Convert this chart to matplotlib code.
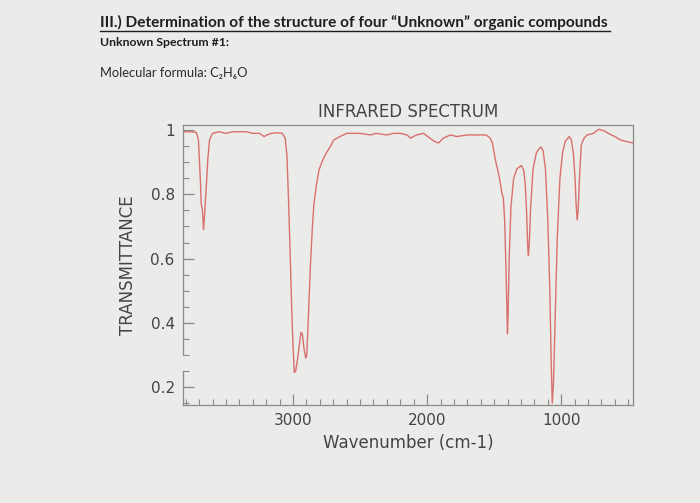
import matplotlib
matplotlib.use("Agg")
import matplotlib.pyplot as plt
from matplotlib.ticker import MultipleLocator, FixedLocator
from matplotlib.lines import Line2D

# ---- data ----
wavenumber = [3820, 3760, 3721, 3705, 3690, 3684, 3675, 3667, 3660, 3647, 3635, 3622, 3600,
              3550, 3500, 3450, 3400, 3350, 3300, 3250, 3215, 3195, 3160, 3120, 3080, 3058,
              3045, 3033, 3020, 3010, 3000, 2990, 2980, 2965, 2950, 2940, 2930, 2918, 2905,
              2897, 2885, 2870, 2855, 2844, 2825, 2807, 2780, 2750, 2720, 2695, 2650, 2600,
              2569, 2500, 2420, 2380, 2300, 2250, 2197, 2150, 2123, 2080, 2026, 1980, 1945,
              1914, 1880, 1825, 1780, 1700, 1620, 1560, 1530, 1513, 1490, 1468, 1452, 1441,
              1432, 1422, 1412, 1405, 1401, 1396, 1388, 1375, 1355, 1330, 1297, 1280, 1268,
              1258, 1250, 1245, 1238, 1228, 1210, 1185, 1160, 1149, 1135, 1118, 1100, 1085,
              1075, 1067, 1058, 1045, 1030, 1010, 990, 970, 941, 925, 910, 897, 888, 881,
              874, 862, 850, 830, 807, 760, 720, 700, 680, 650, 600, 561, 520, 465]
transmittance = [0.995, 0.995, 0.993, 0.97, 0.84, 0.77, 0.75, 0.69, 0.73, 0.82, 0.91, 0.97, 0.99,
                 0.995, 0.99, 0.995, 0.995, 0.995, 0.99, 0.99, 0.98, 0.985, 0.99, 0.992, 0.99, 0.975,
                 0.92, 0.78, 0.60, 0.45, 0.33, 0.245, 0.25, 0.29, 0.34, 0.37, 0.365, 0.32, 0.29,
                 0.30, 0.42, 0.58, 0.70, 0.77, 0.83, 0.875, 0.905, 0.93, 0.95, 0.97, 0.98, 0.99,
                 0.99, 0.99, 0.985, 0.99, 0.985, 0.99, 0.99, 0.985, 0.975, 0.985, 0.99, 0.975, 0.965,
                 0.96, 0.975, 0.985, 0.98, 0.985, 0.985, 0.985, 0.975, 0.96, 0.905, 0.866, 0.83, 0.80,
                 0.79, 0.72, 0.57, 0.44, 0.366, 0.43, 0.60, 0.76, 0.85, 0.88, 0.89, 0.875, 0.83,
                 0.74, 0.64, 0.61, 0.65, 0.76, 0.88, 0.93, 0.945, 0.947, 0.935, 0.88, 0.72, 0.50,
                 0.28, 0.15, 0.21, 0.42, 0.66, 0.85, 0.93, 0.965, 0.98, 0.97, 0.93, 0.85, 0.76, 0.72,
                 0.75, 0.87, 0.955, 0.975, 0.985, 0.99, 1.003, 1.0, 0.998, 0.99, 0.98, 0.97, 0.965, 0.96]
ytick_vals = [0.2, 0.4, 0.6, 0.8, 1.0]
ytick_labels = ["0.2", "0.4", "0.6", "0.8", "1"]
xtick_vals = [3000, 2000, 1000]
xtick_labels = ["3000", "2000", "1000"]

bg = "#ebebe9"
fig = plt.figure(figsize=(7.0, 5.03), dpi=100, facecolor=bg)

# ---- page text ----
page_font = ["Lato", "DejaVu Sans"]
fig.text(100/700, 1-22/503, "III.) Determination of the structure of four \u201cUnknown\u201d organic compounds",
         family=page_font, fontweight="bold", fontsize=11.1, color="#1e1e1e", va="center", ha="left")
fig.add_artist(Line2D([100/700, 610/700], [1-31/503, 1-31/503], color="#1e1e1e", lw=1.0))
fig.text(100/700, 1-43/503, "Unknown Spectrum #1:", family=page_font, fontweight="bold",
         fontsize=8.8, color="#1e1e1e", va="center", ha="left")
fig.text(100/700, 1-73/503, "Molecular formula: C\u2082H\u2086O", family=page_font,
         fontsize=9.3, color="#2a2a2a", va="center", ha="left")

# ---- axes ----
ax = fig.add_axes([183/700, 1-405/503, 450/700, 280/503])
ax.set_facecolor(bg)
ax.plot(wavenumber, transmittance, color="#d8706e", lw=1.0)
ax.set_xlim(3820, 465)
ax.set_ylim(0.144, 1.016)

ax.xaxis.set_major_locator(FixedLocator(xtick_vals))
ax.set_xticklabels(xtick_labels)
ax.xaxis.set_minor_locator(MultipleLocator(100))
ax.yaxis.set_major_locator(FixedLocator(ytick_vals))
ax.set_yticklabels(ytick_labels)
ax.yaxis.set_minor_locator(MultipleLocator(0.05))

spine_c = "#8a8a8a"
ax.tick_params(which="both", direction="in", colors=spine_c, labelcolor="#444444",
               labelsize=11, top=False, right=False)
ax.tick_params(which="major", length=8, width=0.9, pad=6)
ax.tick_params(which="minor", length=4, width=0.8)
for s in ["top", "right", "bottom"]:
    ax.spines[s].set_color(spine_c)
    ax.spines[s].set_linewidth(0.9)
ax.spines["left"].set_visible(False)
ytr = ax.get_yaxis_transform()
ax.plot([0, 0], [1.016, 0.30], color=spine_c, lw=0.9, transform=ytr, clip_on=False)
ax.plot([0, 0], [0.25, 0.144], color=spine_c, lw=0.9, transform=ytr, clip_on=False)

ax.set_title("INFRARED SPECTRUM", fontsize=12, color="#444444", pad=6)
ax.set_xlabel("Wavenumber (cm-1)", fontsize=12, color="#444444", labelpad=4)
ax.set_ylabel("TRANSMITTANCE", fontsize=12, color="#444444", labelpad=10)

fig.savefig("out.png", dpi=100, facecolor=bg)
